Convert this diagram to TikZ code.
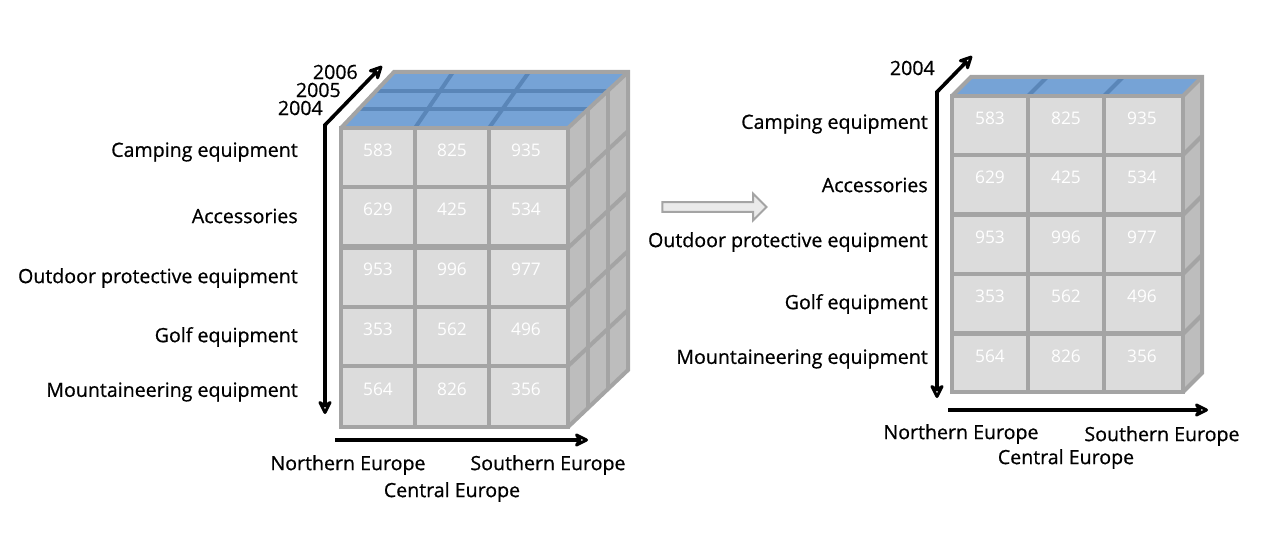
\documentclass[tikz,border=0pt]{standalone}
\usepackage{fontspec}
\setmainfont{Open Sans}
\newfontfamily\labfont{Open Sans}[FakeBold=0.7]
\usetikzlibrary{arrows.meta,shapes.arrows}
\definecolor{cellg}{HTML}{DCDCDC}
\definecolor{edgeg}{HTML}{A4A4A4}
\definecolor{sideg}{HTML}{BDBDBD}
\definecolor{topb}{HTML}{76A3D6}
\definecolor{topl}{HTML}{5A86B8}
\tikzset{
 lab/.style={anchor=east,font=\labfont\fontsize{14.7}{15}\selectfont\addfontfeature{FakeBold=0.7},inner sep=0pt},
 blab/.style={font=\labfont\fontsize{14.7}{15}\selectfont\addfontfeature{FakeBold=0.7},inner sep=0pt},
 num/.style={text=white,font=\fontsize{13}{13}\selectfont},
 ax/.style={line width=2.7pt,{Stealth[length=13pt,width=13pt,open,round]}-{Stealth[length=13pt,width=13pt,open,round]}},
 ax1/.style={line width=2.7pt,-{Stealth[length=13pt,width=13pt,open,round]}},
}
\begin{document}
\begin{tikzpicture}[x=0.75pt,y=-0.75pt]
\useasboundingbox (0,0) rectangle (1288,538);
% ===== left cube =====
\fill[sideg] (568,128)--(628,72)--(628,370)--(568,427)--cycle;
\fill[topb] (341,128)--(394,72)--(628,72)--(568,128)--cycle;
\foreach \k in {1,2}{
  \draw[topl,line width=3pt] ({341+\k*53/3},{128-\k*56/3})--({568+\k*60/3},{128-\k*56/3});
  \draw[edgeg,line width=3pt] ({568+\k*20},{128-\k*56/3})--({568+\k*20},{427-\k*56/3});
}
\foreach \x/\xx in {415/433,489/509}
  \draw[topl,line width=3pt] (\x,128)--(\xx+20,72);
\foreach \y in {187,248,307,366}
  \draw[edgeg,line width=3pt] (568,\y)--(628,\y-56);
\draw[edgeg,line width=3pt] (341,128)--(394,72)--(628,72)--(628,370)--(568,427);
\draw[edgeg,line width=3pt] (568,128)--(628,72);
\foreach \y [count=\r] in {128,187,248,307,366}{
 \foreach \x [count=\c] in {341,415,489}{
  \pgfmathsetmacro\xe{\c==3?568:\x+74}
  \pgfmathsetmacro\ye{\r==5?427:\y+59}
  \draw[edgeg,line width=3pt,fill=cellg] (\x,\y) rectangle (\xe,\ye);
 }}
\foreach \row [count=\r] in {{583,825,935},{629,425,534},{953,996,977},{353,562,496},{564,826,356}}{
 \foreach \v [count=\c] in \row{
   \node[num] (L\r\c) at ({341+37+(\c-1)*74},{128+22+(\r-1)*59.8}) {\v};
 }}
% axes left
\coordinate (lt) at (382,66); \coordinate (lc) at (325,125); \coordinate (lb) at (325,414);
\draw[ax] (lt)--(lc)--(lb);
\coordinate (bl) at (335,440); \coordinate (br) at (588,440);
\draw[ax1] (bl)--(br);
\node[blab,anchor=east] (y6) at (358,72) {2006};
\node[blab,anchor=east] (y5) at (341,90) {2005};
\node[blab,anchor=east] (y4) at (323,108) {2004};
\node[lab] (a1) at (298,152) {Camping equipment};
\node[lab] (a2) at (298,216) {Accessories};
\node[lab] (a3) at (298,278) {Outdoor protective equipment};
\node[lab] (a4) at (298,337) {Golf equipment};
\node[lab] (a5) at (298,392) {Mountaineering equipment};
\node[blab] (n1) at (348,465) {Northern Europe};
\node[blab] (n2) at (548,465) {Southern Europe};
\node[blab] (n3) at (452,492) {Central Europe};
% middle arrow
\node[single arrow,draw=edgeg,fill=cellg!60,line width=1.5pt,minimum width=20pt,single arrow head extend=3pt,minimum height=78pt,inner sep=1pt] (mid) at (712,207) {};
% ===== right cube =====
\fill[sideg] (1183,96)--(1202,77)--(1202,373)--(1183,392)--cycle;
\fill[topb] (952,96)--(971,77)--(1202,77)--(1183,96)--cycle;
\foreach \x in {1028,1104}
  \draw[topl,line width=3pt] (\x,96)--(\x+19,77);
\foreach \y in {155,215,274,334}
  \draw[edgeg,line width=3pt] (1183,\y)--(1202,\y-19);
\draw[edgeg,line width=3pt] (952,96)--(971,77)--(1202,77)--(1202,373)--(1183,392);
\draw[edgeg,line width=3pt] (1183,96)--(1202,77);
\foreach \y [count=\r] in {96,155,215,274,334}{
 \foreach \x [count=\c] in {952,1028,1104}{
  \pgfmathsetmacro\xe{\c==3?1183:\x+76}
  \pgfmathsetmacro\ye{\r==5?392:\y+59}
  \draw[edgeg,line width=3pt,fill=cellg] (\x,\y) rectangle (\xe,\ye);
 }}
\foreach \row [count=\r] in {{583,825,935},{629,425,534},{953,996,977},{353,562,496},{564,826,356}}{
 \foreach \v [count=\c] in \row{
   \node[num] (R\r\c) at ({952+38+(\c-1)*76},{96+22+(\r-1)*59.5}) {\v};
 }}
\coordinate (rt) at (972,56); \coordinate (rc) at (937,92); \coordinate (rb) at (937,398);
\draw[ax] (rt)--(rc)--(rb);
\coordinate (rbl) at (948,410); \coordinate (rbr) at (1208,410);
\draw[ax1] (rbl)--(rbr);
\node[blab,anchor=east] (z4) at (935,68) {2004};
\node[lab] (b1) at (928,124) {Camping equipment};
\node[lab] (b2) at (928,185) {Accessories};
\node[lab] (b3) at (928,242) {Outdoor protective equipment};
\node[lab] (b4) at (928,304) {Golf equipment};
\node[lab] (b5) at (928,359) {Mountaineering equipment};
\node[blab] (m1) at (961,434) {Northern Europe};
\node[blab] (m2) at (1162,436) {Southern Europe};
\node[blab] (m3) at (1066,459) {Central Europe};
\end{tikzpicture}
\end{document}
